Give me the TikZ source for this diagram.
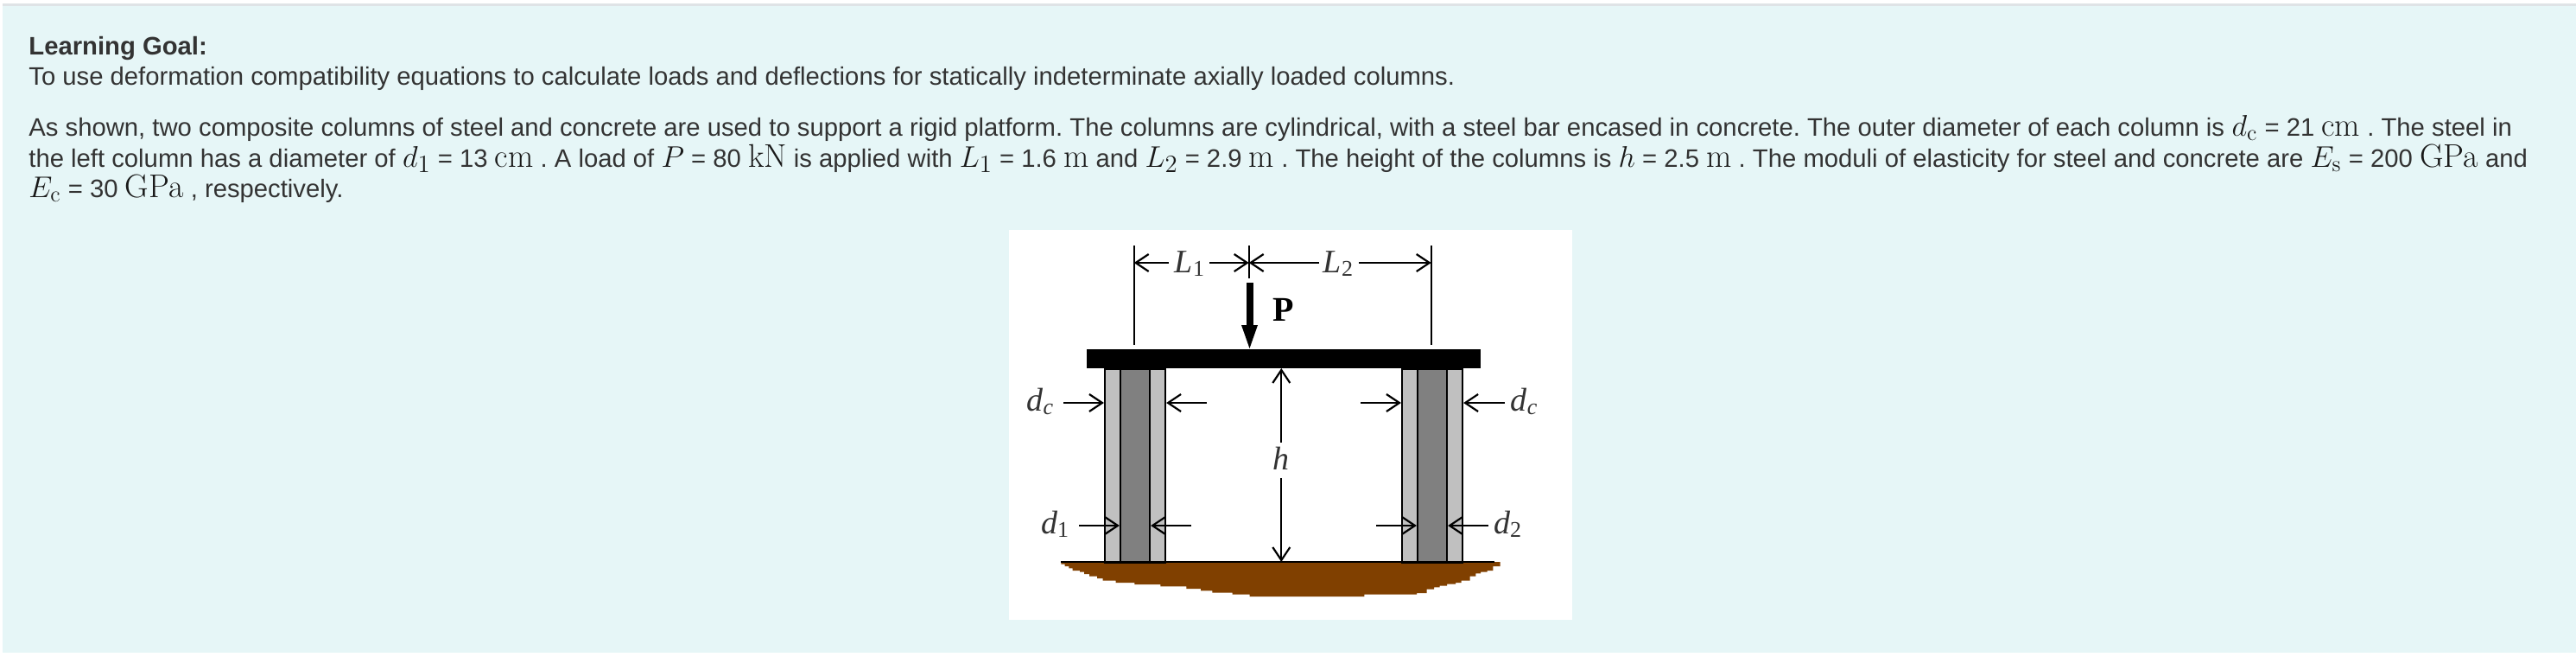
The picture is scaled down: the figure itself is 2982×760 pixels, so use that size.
\documentclass[tikz,border=0pt]{standalone}
\usepackage{fontspec}
\setmainfont{Liberation Sans}
\newfontfamily\figfont{Liberation Serif}
\newfontfamily\unitfont{Latin Modern Roman}
\usetikzlibrary{arrows.meta}
\frenchspacing
\definecolor{panel}{HTML}{E6F6F7}
\definecolor{rulegray}{HTML}{DFE3E6}
\definecolor{bodytext}{HTML}{333333}
\definecolor{concrete}{HTML}{C0C0C0}
\definecolor{steel}{HTML}{808080}
\definecolor{soil}{HTML}{804000}
\newcommand{\Mth}[1]{{\color{black!90}\fontsize{19}{19}\selectfont$#1$}}
\newcommand{\Unit}[1]{{\color{black!90}\fontsize{19}{19}\selectfont\unitfont #1}}
\newcommand{\Rs}[1]{\hbox{\fontsize{13}{13}\selectfont\unitfont #1}}
\newcommand{\Sb}[1]{\raisebox{-2.2pt}{\fontsize{13}{13}\selectfont\figfont\upshape #1}}
\newcommand{\Si}[1]{\raisebox{-2.2pt}{\fontsize{13}{13}\selectfont\figfont\itshape #1}}
\tikzset{
  x=0.5pt,y=-0.5pt,
  textline/.style={anchor=base west,inner sep=0pt,text=bodytext,font=\fontsize{14.63}{18}\selectfont\frenchspacing},
  figlabel/.style={anchor=base,inner sep=0pt,text=black!80,font=\figfont\itshape\fontsize{19}{19}\selectfont},
  lin/.style={draw=black,line width=1.15pt},
  dim/.style={lin,-{Straight Barb[length=7.5pt,width=10pt,line width=1.1pt]}},
  block/.style={draw=black,line width=1.1pt,anchor=north,inner sep=0pt,minimum height=112pt},
}
\begin{document}
\begin{tikzpicture}
\useasboundingbox (0,0) rectangle (2982,760);
\fill[white] (0,0) rectangle (2982,760);
\fill[panel] (3,6) rectangle (2982,755);
\fill[rulegray] (3,4) rectangle (2982,7);
\node[textline] (goal) at (33,63) {\textbf{Learning Goal:}};
\node[textline] (l2) at (33,98.5) {To use deformation compatibility equations to calculate loads and deflections for statically indeterminate axially loaded columns.};
\node[textline] (l3) at (33,157) {As shown, two composite columns of steel and concrete are used to support a rigid platform. The columns are cylindrical, with a steel bar encased in concrete. The outer diameter of each column is \Mth{d_{\Rs{c}}} = 21 \Unit{cm} . The steel in};
\node[textline] (l4) at (33,193) {the left column has a diameter of \Mth{d_1} = 13 \Unit{cm} . A load of \Mth{P} = 80 \Unit{kN} is applied with \Mth{L_1} = 1.6 \Unit{m} and \Mth{L_2} = 2.9 \Unit{m} . The height of the columns is \Mth{h} = 2.5 \Unit{m} . The moduli of elasticity for steel and concrete are \Mth{E_{\Rs{s}}} = 200 \Unit{GPa} and};
\node[textline] (l5) at (33,228) {\Mth{E_{\Rs{c}}} = 30 \Unit{GPa} , respectively.};
% figure
\fill[white] (1168,266) rectangle (1820,717);
% ground
\fill[soil] (1228.3,650) -- (1228.3,652.7) -| (1232.7,655) -| (1237.3,657.3) -| (1241.7,660) -| (1250,661.7) -| (1255,664) -| (1261,666.7) -| (1270,669) -| (1276.7,671.7) -| (1291.7,674) -| (1313.3,676) -| (1343.3,678.3) -| (1373.3,681) -| (1390,683.3) -| (1403.3,685.7) -| (1426.7,687.7) -| (1446.7,690) -| (1579.3,687.7) -| (1640,686) -| (1651.7,681.7) -| (1660,679.3) -| (1666.7,677.7) -| (1675,675.7) -| (1685,674) -| (1691.7,671.7) -| (1701.7,666.7) -| (1708.3,663.3) -| (1714,661.7) -| (1721.7,660) -| (1728.3,655) -| (1736.7,650.7) -- (1736.7,650) -- cycle;
% columns
\node[block,fill=concrete,minimum width=35pt] (colL) at (1314,426) {};
\node[block,fill=steel,minimum width=17pt] (coreL) at (1314,426) {};
\node[block,fill=concrete,minimum width=35pt] (colR) at (1658,426) {};
\node[block,fill=steel,minimum width=17pt] (coreR) at (1658,426) {};
\coordinate (gndL) at (1228,650);
\coordinate (gndR) at (1730,650);
\draw[draw=black,line width=1.1pt] (gndL) -- (gndR);
% platform
\node[fill=black,inner sep=0pt,minimum width=228pt,minimum height=11pt] (plat) at (1486,415) {};
% extension lines
\coordinate (e1t) at (1312.7,284); \coordinate (e1b) at (1312.7,399);
\coordinate (e2t) at (1656.7,284); \coordinate (e2b) at (1656.7,399);
\coordinate (ct) at (1445.7,284); \coordinate (cb) at (1445.7,322);
\draw[lin] (e1t) -- (e1b);
\draw[lin] (e2t) -- (e2b);
\draw[lin] (ct) -- (cb);
% L dimensions
\coordinate (d1) at (1312.7,304); \coordinate (d2) at (1445.7,304); \coordinate (d3) at (1656.7,304);
\node[figlabel] (L1) at (1377,315) {L\Sb{1}};
\node[figlabel] (L2) at (1549,315) {L\Sb{2}};
\coordinate (L1a) at (1353,304); \coordinate (L1b) at (1400,304);
\coordinate (L2a) at (1527,304); \coordinate (L2b) at (1573,304);
\draw[dim] (L1a) -- (d1);
\draw[dim] (L1b) -- (d2);
\draw[dim] (L2a) -- (d2);
\draw[dim] (L2b) -- (d3);
% load
\coordinate (Pt) at (1446.5,327); \coordinate (Ph) at (1446.5,376); \coordinate (Pe) at (1446.5,403);
\draw[line width=4pt] (Pt) -- (Ph);
\fill (1437,376) -- (1456,376) -- (Pe) -- cycle;
\node[anchor=base,inner sep=0pt,font=\figfont\bfseries\fontsize{20}{20}\selectfont] (P) at (1485.5,371) {P};
% h
\node[figlabel] (hl) at (1483,543) {h};
\coordinate (ht) at (1483.3,426); \coordinate (hb) at (1483.3,650);
\coordinate (ha) at (1483.3,512); \coordinate (hc) at (1483.3,553);
\draw[dim,line width=0.9pt] (ha) -- (ht);
\draw[dim,line width=0.9pt] (hc) -- (hb);
% dc
\node[figlabel] (dcL) at (1204,475) {d\Si{c}};
\node[figlabel] (dcR) at (1764,475) {d\Si{c}};
\coordinate (a1) at (1231,466); \coordinate (a2) at (1397,466); \coordinate (a3) at (1575,466); \coordinate (a4) at (1742,466);
\draw[dim] (a1) -- (a1 -| colL.west);
\draw[dim] (a2) -- (a2 -| colL.east);
\draw[dim] (a3) -- (a3 -| colR.west);
\draw[dim] (a4) -- (a4 -| colR.east);
% d1 d2
\node[figlabel] (dA) at (1221,617) {d\Sb{1}};
\node[figlabel] (dB) at (1745,617) {d\Sb{2}};
\coordinate (b1) at (1249,608); \coordinate (b2) at (1379,608); \coordinate (b3) at (1593,608); \coordinate (b4) at (1723,608);
\draw[dim] (b1) -- (b1 -| coreL.west);
\draw[dim] (b2) -- (b2 -| coreL.east);
\draw[dim] (b3) -- (b3 -| coreR.west);
\draw[dim] (b4) -- (b4 -| coreR.east);
\end{tikzpicture}
\end{document}
